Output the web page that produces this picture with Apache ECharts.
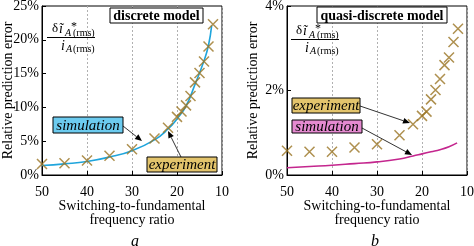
<!DOCTYPE html>
<html><head><meta charset="utf-8">
<script src="https://cdn.jsdelivr.net/npm/echarts@6/dist/echarts.min.js"></script>
<style>html,body{margin:0;padding:0;background:#fff}#c{width:474px;height:246px}</style>
</head><body><div id="c"></div>
<script>
var ratioExp = [50,45,40,35,30,25,22,20,19,18,17,16,15,14,13,12];
var errExpDiscrete = [1.63,1.75,2.15,2.86,3.8,5.4,7.0,8.6,9.4,10.3,11.7,13.7,15.1,16.8,19.0,22.3];
var ratioSimDiscrete = [50,45,40,35,30,25,22,20,18,16,14,13,12.3];
var errSimDiscrete = [1.4,1.65,2.0,2.65,3.6,5.2,6.8,8.3,10.2,13.4,16.9,19.2,22.1];
var errExpQuasi = [0.575,0.55,0.55,0.65,0.73,0.94,1.2,1.40,1.50,1.79,2.01,2.27,2.60,2.78,3.15,3.46];
var ratioSimQuasi = [50,45,40,35,30,25,22,20,18,16,14,12.2];
var errSimQuasi = [0.17,0.2,0.23,0.27,0.31,0.38,0.45,0.5,0.55,0.6,0.67,0.76];
var xTicks = [50,40,30,20,10];
var yTicksDiscrete = [0,5,10,15,20,25];
var yTicksQuasi = [0,2,4];

function pairs(xs, ys){ return xs.map(function(x,i){return [x, ys[i]];}); }
var SERIF = 'Liberation Serif';
var crossPath = 'path://M0 0L10 10M10 0L0 10';
var crossColor = '#9a7423';

function xAx(gi){
  return {gridIndex:gi, type:'value', inverse:true, min:10, max:50, interval:10,
    axisLine:{show:true, lineStyle:{color:'#000'}},
    axisTick:{show:true, inside:true, length:4, lineStyle:{color:'#000'}},
    axisLabel:{color:'#000', fontFamily:SERIF, fontSize:14, margin:10,
      formatter:function(v){return xTicks.indexOf(v)>=0 ? String(v) : '';}},
    splitLine:{show:true, lineStyle:{color:'#b0b0b0', type:[2,2], width:1}},
    name:'Switching-to-fundamental\nfrequency ratio', nameLocation:'middle', nameGap:24, nameMoveOverlap:false,
    nameTextStyle:{color:'#000', fontFamily:SERIF, fontSize:14, lineHeight:14}
  };
}
function yAx(gi, max, interval){
  return {gridIndex:gi, type:'value', min:0, max:max, interval:interval,
    axisLine:{show:true, lineStyle:{color:'#000'}},
    axisTick:{show:true, inside:true, length:4, lineStyle:{color:'#000'}},
    axisLabel:{color:'#000', fontFamily:SERIF, fontSize:14, margin:3, formatter:'{value}%'},
    splitLine:{show:false},
    name:'Relative prediction error', nameLocation:'middle', nameGap:27, nameMoveOverlap:false, nameRotate:90,
    nameTextStyle:{color:'#000', fontFamily:SERIF, fontSize:14}
  };
}

function arrow(x1,y1,x2,y2){
  var dx=x2-x1, dy=y2-y1, L=Math.sqrt(dx*dx+dy*dy), ux=dx/L, uy=dy/L;
  var hl=7, hw=3;
  var bx=x2-ux*hl, by=y2-uy*hl;
  return [
    {type:'line', shape:{x1:x1,y1:y1,x2:bx,y2:by}, style:{stroke:'#333', lineWidth:1}, z:100},
    {type:'polygon', shape:{points:[[x2,y2],[bx-uy*hw,by+ux*hw],[bx+uy*hw,by-ux*hw]]}, style:{fill:'#000'}, z:100}
  ];
}
function labelBox(x,y,w,h,fill,text){
  return [
    {type:'rect', shape:{x:x,y:y,width:w,height:h}, style:{fill:fill, stroke:'#000', lineWidth:1}, z:101},
    {type:'text', x:x+w/2, y:y+h/2+1, style:{text:text, fill:'#000', fontFamily:SERIF, fontStyle:'italic', fontSize:15, align:'center', verticalAlign:'middle'}, z:102}
  ];
}
function titleBox(x,y,w,h,text){
  return [
    {type:'rect', shape:{x:x,y:y,width:w,height:h}, style:{fill:'#fff', stroke:'#000', lineWidth:1}, z:101},
    {type:'text', x:x+w/2, y:y+h/2+1, style:{text:text, fill:'#000', fontFamily:SERIF, fontWeight:'bold', fontSize:14, align:'center', verticalAlign:'middle'}, z:102}
  ];
}
function formula(ox, oy){
  function t(x,y,s,size,italic){ return {type:'text', x:ox+x, y:oy+y, style:{text:s, fill:'#000', fontFamily:SERIF, fontSize:size, fontStyle:italic?'italic':'normal', verticalAlign:'middle'}, z:102}; }
  return [
    t(52,29,'δ',13,false),
    t(59,29,'ĩ',14,true),
    t(65,33,'A',10,true),
    t(71,27,'*',12,false),
    t(73,33,'(rms)',10,false),
    {type:'line', shape:{x1:ox+47,y1:oy+37.5,x2:ox+95,y2:oy+37.5}, style:{stroke:'#000', lineWidth:1}, z:102},
    t(61,46,'i',14,true),
    t(66,49,'A',10,true),
    t(73,49,'(rms)',10,false)
  ];
}

var chart = echarts.init(document.getElementById('c'));
var graphics = [].concat(
  titleBox(110,8,93,15,'discrete model'),
  titleBox(317,7,130,16,'quasi-discrete model'),
  formula(0,0), formula(244,2),
  arrow(123,126,142,141), labelBox(53,117,70,16,'#6ccbef','simulation'),
  arrow(181,157,168,131), labelBox(147,157,70,15,'#e3c46c','experiment'),
  arrow(360,106,410,123), labelBox(292,98,68,15,'#e3c46c','experiment'),
  arrow(362,128,412,155), labelBox(292,120,70,13,'#e58ad0','simulation'),
  [{type:'text', x:135, y:242, style:{text:'a', fill:'#000', fontFamily:SERIF, fontStyle:'italic', fontSize:16, align:'center', verticalAlign:'middle'}},
   {type:'text', x:375, y:242, style:{text:'b', fill:'#000', fontFamily:SERIF, fontStyle:'italic', fontSize:16, align:'center', verticalAlign:'middle'}}]
);

chart.setOption({
  animation:false,
  backgroundColor:'#fff',
  textStyle:{fontFamily:SERIF},
  grid:[
    {left:42, top:6, width:180, height:169, outerBoundsMode:'none', containLabel:false, show:true, borderColor:'#000', borderWidth:1, backgroundColor:'transparent'},
    {left:287, top:6, width:180, height:169, outerBoundsMode:'none', containLabel:false, show:true, borderColor:'#000', borderWidth:1, backgroundColor:'transparent'}
  ],
  xAxis:[xAx(0), xAx(1)],
  yAxis:[yAx(0,25,5), yAx(1,4,2)],
  series:[
    {type:'line', xAxisIndex:0, yAxisIndex:0, data:pairs(ratioSimDiscrete, errSimDiscrete), smooth:true, showSymbol:false,
      lineStyle:{color:'#1fa5dc', width:1.6}, z:3},
    {type:'scatter', xAxisIndex:0, yAxisIndex:0, data:pairs(ratioExp, errExpDiscrete), symbol:crossPath, symbolSize:10,
      itemStyle:{color:'rgba(0,0,0,0)', borderColor:crossColor, borderWidth:1.5}, z:4},
    {type:'line', xAxisIndex:1, yAxisIndex:1, data:pairs(ratioSimQuasi, errSimQuasi), smooth:true, showSymbol:false,
      lineStyle:{color:'#c4268e', width:1.6}, z:3},
    {type:'scatter', xAxisIndex:1, yAxisIndex:1, data:pairs(ratioExp, errExpQuasi), symbol:crossPath, symbolSize:10,
      itemStyle:{color:'rgba(0,0,0,0)', borderColor:crossColor, borderWidth:1.5}, z:4}
  ],
  graphic:graphics
});
</script>
</body></html>
